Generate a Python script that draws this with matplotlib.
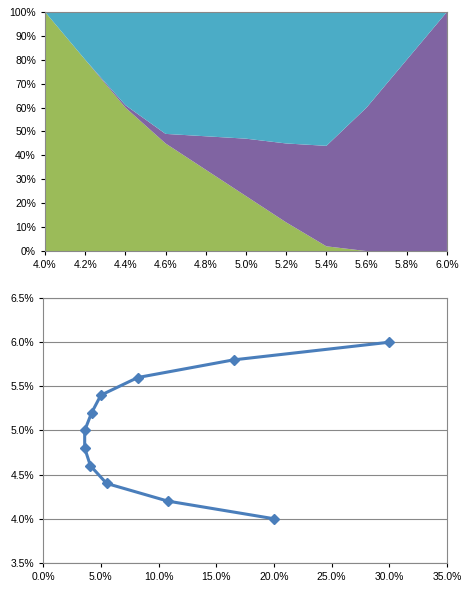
import matplotlib
matplotlib.use("Agg")
import matplotlib.pyplot as plt
from matplotlib.ticker import FuncFormatter

x_ret = [4.0, 4.2, 4.4, 4.6, 4.8, 5.0, 5.2, 5.4, 5.6, 5.8, 6.0]
green = [100, 80, 60, 45, 34, 23, 12, 2, 0, 0, 0]
purple = [0, 0, 1, 4, 14, 24, 33, 42, 60, 80, 100]
cyan = [100 - g - p for g, p in zip(green, purple)]

sd = [20.0, 10.8, 5.5, 4.1, 3.6, 3.6, 4.2, 5.0, 8.2, 16.5, 30.0]
ret = [4.0, 4.2, 4.4, 4.6, 4.8, 5.0, 5.2, 5.4, 5.6, 5.8, 6.0]

plt.rcParams['font.family'] = ['Liberation Sans', 'DejaVu Sans']
fig = plt.figure(figsize=(4.69, 5.95), dpi=100)
ax1 = fig.add_axes([0.096, 0.578, 0.857, 0.402])
ax1.stackplot(x_ret, green, purple, cyan, colors=['#9BBB59', '#8064A2', '#4BACC6'])
ax1.set_xlim(4.0, 6.0); ax1.set_ylim(0, 100)
ax1.set_xticks(x_ret)
ax1.xaxis.set_major_formatter(FuncFormatter(lambda v, p: f"{v:.1f}%"))
ax1.set_yticks(range(0, 101, 10))
ax1.yaxis.set_major_formatter(FuncFormatter(lambda v, p: f"{v:.0f}%"))

ax2 = fig.add_axes([0.092, 0.054, 0.861, 0.445])
ax2.plot(sd, ret, color='#4A7EBB', lw=2.2, marker='D', ms=5, mfc='#4A7EBB')
ax2.set_xlim(0, 35); ax2.set_ylim(3.5, 6.5)
ax2.set_xticks(range(0, 36, 5))
ax2.xaxis.set_major_formatter(FuncFormatter(lambda v, p: f"{v:.1f}%"))
ax2.set_yticks([3.5, 4.0, 4.5, 5.0, 5.5, 6.0, 6.5])
ax2.yaxis.set_major_formatter(FuncFormatter(lambda v, p: f"{v:.1f}%"))
ax2.grid(axis='y', color='#888888', lw=0.8)
ax2.set_axisbelow(True)
for ax in (ax1, ax2):
    ax.tick_params(labelsize=7.5, length=3)
    for s in ax.spines.values():
        s.set_color('#888888')
fig.savefig('out.png', dpi=100)
